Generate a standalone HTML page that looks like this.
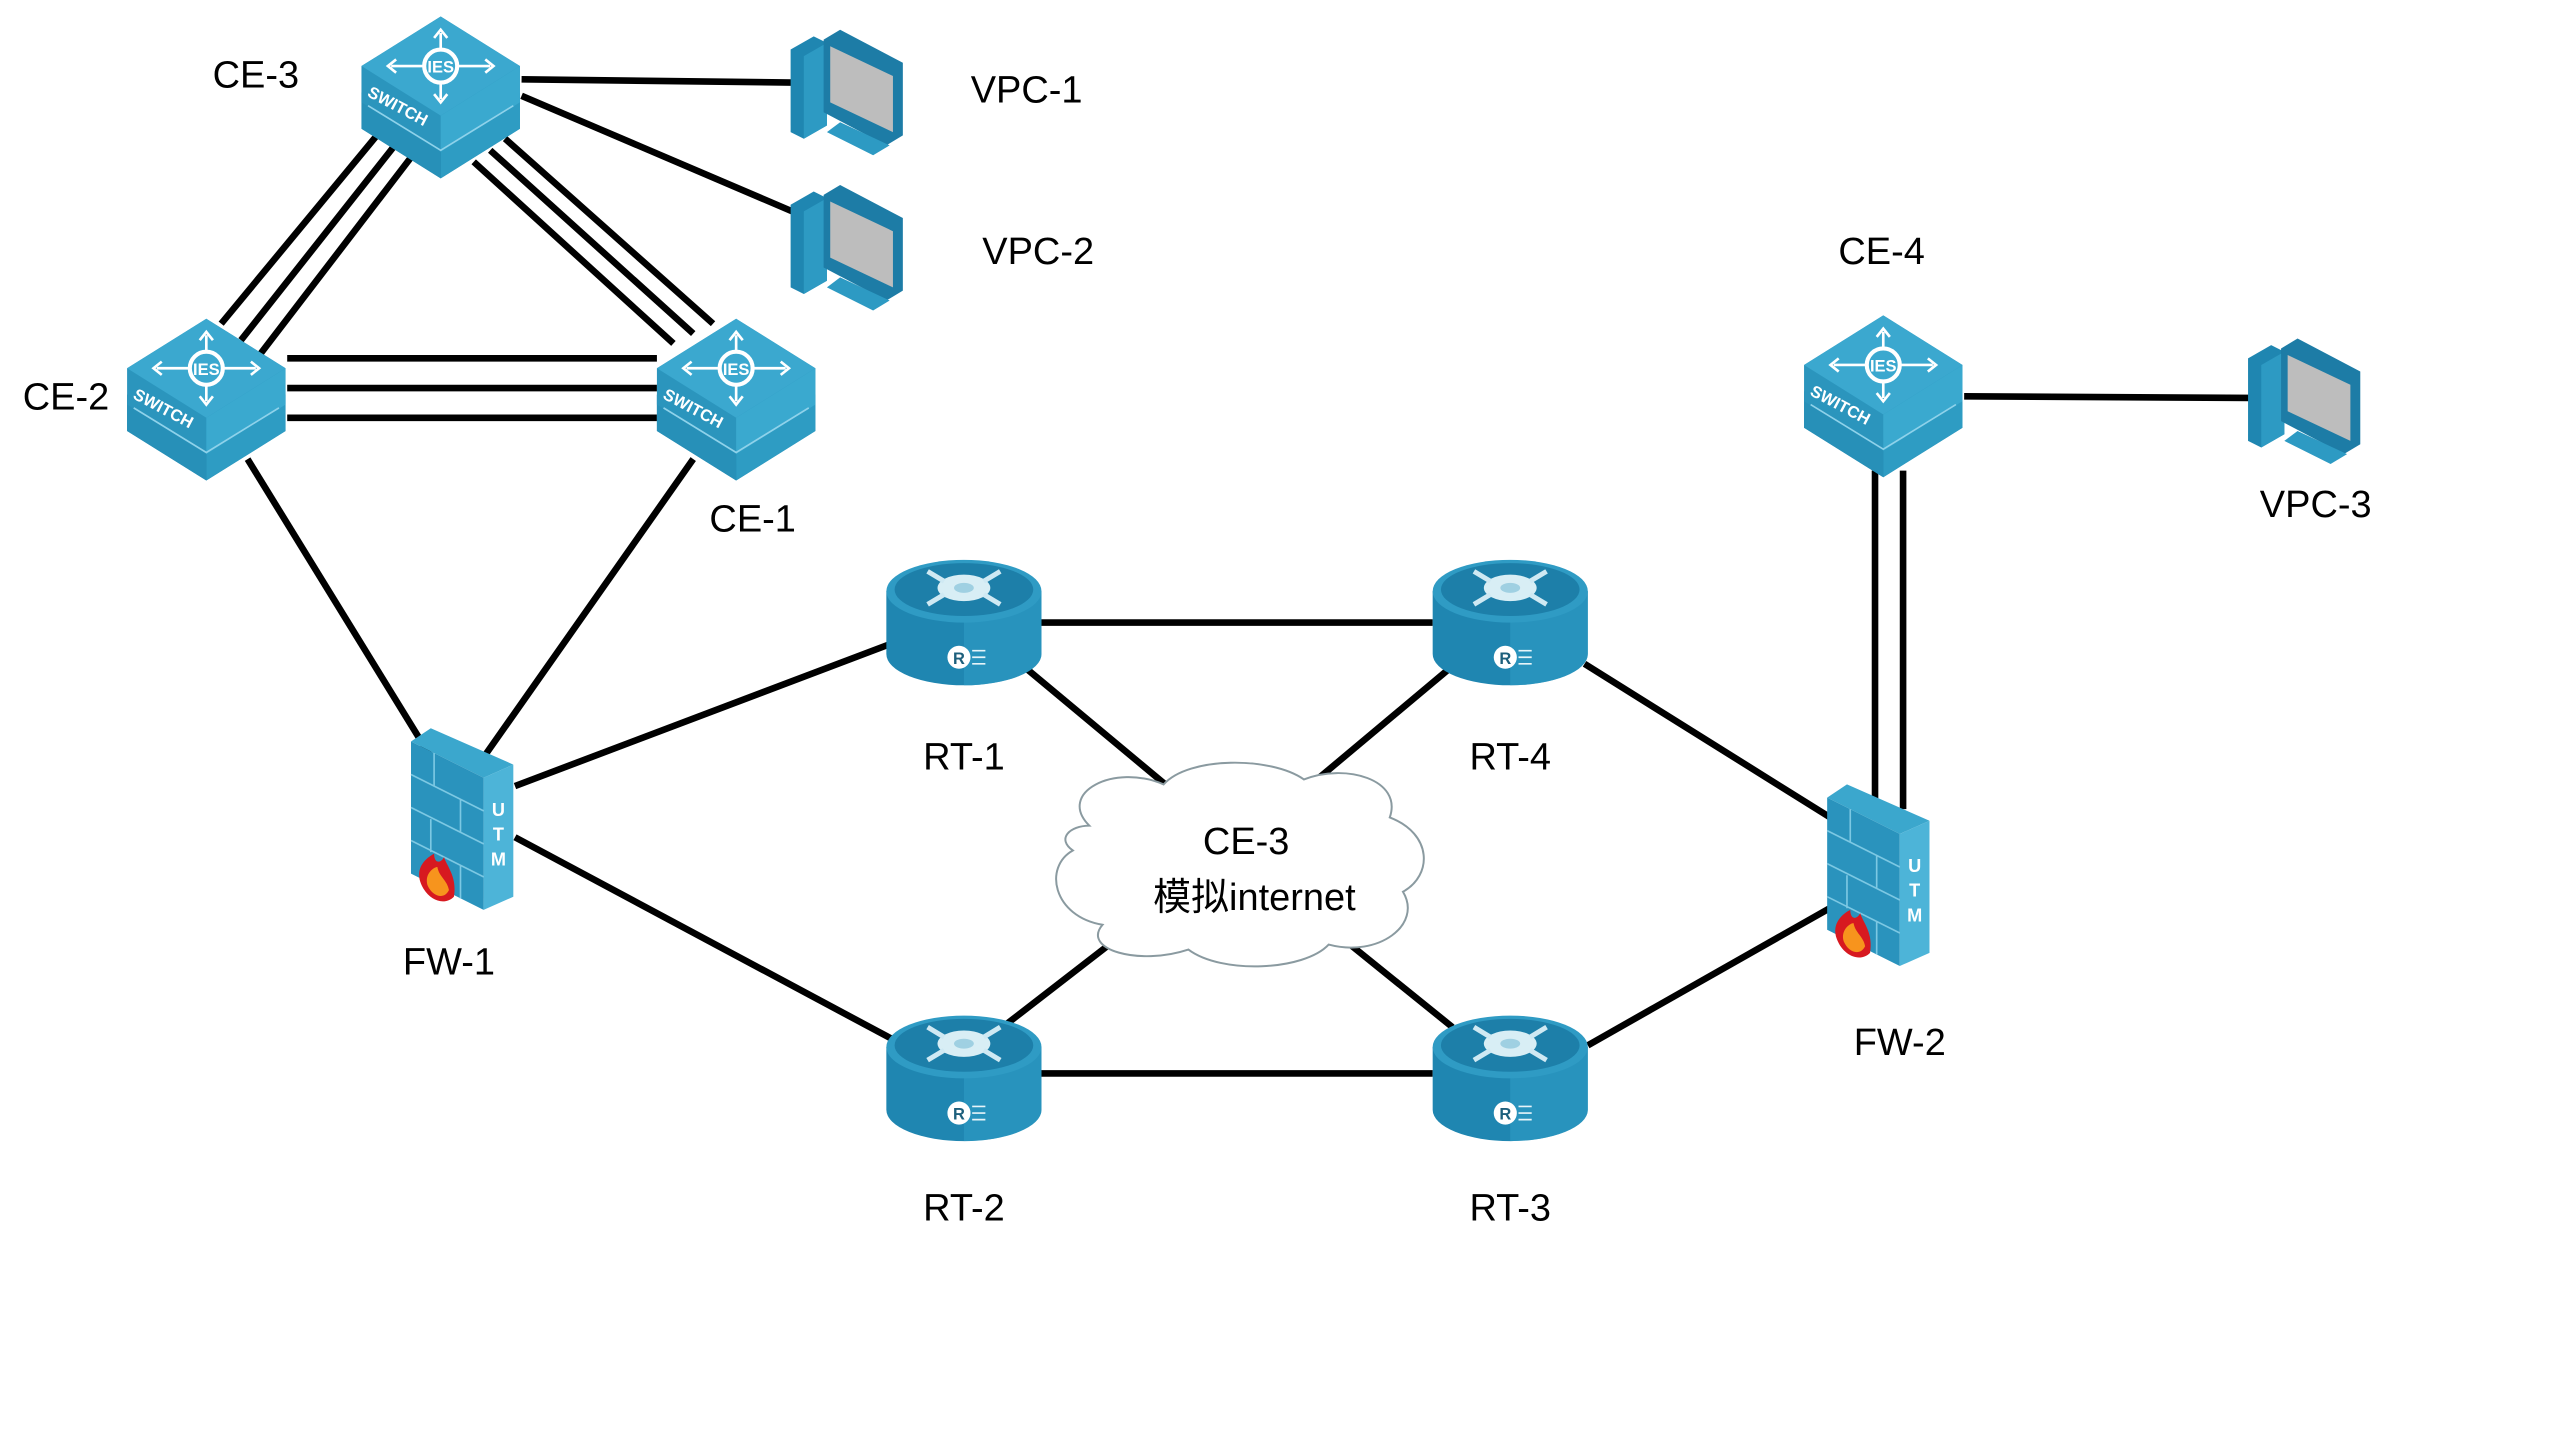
<!DOCTYPE html>
<html><head><meta charset="utf-8"><style>
html,body{margin:0;padding:0;background:#fff;width:2560px;height:1440px;overflow:hidden}
svg{display:block}
text{font-family:"Liberation Sans","Noto Sans CJK SC",sans-serif;font-size:23px;fill:#000}
</style></head><body>
<svg width="2560" height="1440" viewBox="0 0 1551 872" preserveAspectRatio="none" xmlns="http://www.w3.org/2000/svg">
<defs>
<g id="sw">
 <path d="M0,42 L48,13 L96,42 L96,64 L48,94 L0,64 Z" fill="#1f84ad"/>
 <path d="M48,72 L96,42 L96,64 L48,94 Z" fill="#2e9cc3"/>
 <path d="M0,42 L48,72 L48,94 L0,64 Z" fill="#2790b8"/>
 <path d="M0,26 L48,-4 L96,26 L96,48 L48,78 L0,48 Z" fill="#2b95bd"/>
 <path d="M48,56 L96,26 L96,48 L48,78 Z" fill="#3aa9cf"/>
 <path d="M0,26 L48,-4 L96,26 L48,56 Z" fill="#3ba8cf"/>
 <path d="M4,50 L48,77 L92,50" fill="none" stroke="#8fd2ea" stroke-width="1"/>
 <circle cx="48" cy="26" r="10" fill="none" stroke="#fff" stroke-width="2.5"/>
 <text x="48" y="30" text-anchor="middle" style="font-size:10px;font-weight:bold;fill:#fff">IES</text>
 <path d="M48,16 V6 M48,36 V46 M38,26 H18 M58,26 H78" stroke="#fff" stroke-width="1.6"/>
 <path d="M44,9 L48,4 L52,9 M44,43 L48,48 L52,43 M21,22 L16,26 L21,30 M75,22 L80,26 L75,30" fill="none" stroke="#fff" stroke-width="1.6"/>
 <text x="0" y="0" transform="translate(3,44) rotate(28)" style="font-size:10px;font-weight:bold;fill:#fff">SWITCH</text>
</g>
<g id="rt">
 <path d="M0,22 V60 A47,19 0 0 0 94,60 V22 Z" fill="#1f86b1"/>
 <path d="M47,41 V79 A47,19 0 0 0 94,60 V22 Z" fill="#2f9cc4" opacity="0.6"/>
 <ellipse cx="47" cy="22" rx="47" ry="19" fill="#2f9bc4"/>
 <ellipse cx="47" cy="21" rx="42" ry="16" fill="#1d7fa9"/>
 <ellipse cx="47" cy="20" rx="16" ry="8" fill="#d8eef5"/>
 <ellipse cx="47" cy="20" rx="6" ry="3" fill="#9fd0e2"/>
 <path d="M25,10 L35,16 M69,10 L59,16 M25,30 L35,24 M69,30 L59,24" stroke="#cfe9f3" stroke-width="3"/>
 <circle cx="44" cy="62" r="7" fill="#fff"/>
 <text x="44" y="66" text-anchor="middle" style="font-size:10px;font-weight:bold;fill:#1d5f7c">R</text>
 <path d="M52,58 H60 M52,62 H60 M52,66 H60" stroke="#e6f4f9" stroke-width="1"/>
</g>
<g id="fw">
 <path d="M0,10 L12,2 L62,24 L44,32 Z" fill="#3ba7cd"/>
 <path d="M0,10 L44,32 L44,112 L0,90 Z" fill="#2a93bd"/>
 <path d="M44,32 L62,24 L62,104 L44,112 Z" fill="#4db4d8"/>
 <path d="M0,30 L44,52 M0,50 L44,72 M0,70 L44,92 M14,17 V37 M30,45 V65 M12,57 V77 M30,85 V105" stroke="#7cc8e3" stroke-width="1"/>
 <text x="53" y="55" text-anchor="middle" style="font-size:11px;font-weight:bold;fill:#fff">U</text>
 <text x="53" y="70" text-anchor="middle" style="font-size:11px;font-weight:bold;fill:#fff">T</text>
 <text x="53" y="85" text-anchor="middle" style="font-size:11px;font-weight:bold;fill:#fff">M</text>
 <path d="M6,96 C2,86 10,80 14,78 C14,84 18,84 20,80 C22,86 28,92 26,104 C20,110 10,106 6,96 Z" fill="#d71920"/>
 <path d="M10,97 C8,90 14,86 16,86 C17,92 22,94 23,100 C20,106 13,104 10,97 Z" fill="#f7941d"/>
</g>
<g id="pc">
 <path d="M0,14 L14,6 L22,10 L22,60 L8,68 L0,64 Z" fill="#1f86b1"/>
 <path d="M8,18 L22,10 L22,60 L8,68 Z" fill="#2d9ac3"/>
 <path d="M20,8 L30,2 L68,22 L68,66 L58,72 L20,52 Z" fill="#1d7ca6"/>
 <path d="M24,12 L62,30 L62,64 L24,46 Z" fill="#bdbdbd"/>
 <path d="M30,58 L60,72 L50,78 L22,64 Z" fill="#2d9ac3"/>
</g>
</defs>

<g stroke="#000" stroke-width="4" fill="none" stroke-linecap="butt">
 <line x1="316" y1="48" x2="480" y2="50"/>
 <line x1="316" y1="58" x2="480" y2="128"/>
 <line x1="230" y1="80" x2="134" y2="196"/>
 <line x1="240" y1="87" x2="146" y2="206"/>
 <line x1="250" y1="94" x2="158" y2="214"/>
 <line x1="306" y1="84" x2="432" y2="196"/>
 <line x1="297" y1="91" x2="420" y2="202"/>
 <line x1="287" y1="98" x2="408" y2="208"/>
 <line x1="174" y1="217" x2="398" y2="217"/>
 <line x1="174" y1="235" x2="398" y2="235"/>
 <line x1="174" y1="253" x2="398" y2="253"/>
 <line x1="150" y1="278" x2="262" y2="460"/>
 <line x1="420" y1="278" x2="292" y2="460"/>
 <line x1="312" y1="476" x2="542" y2="389"/>
 <line x1="312" y1="507" x2="542" y2="630"/>
 <line x1="631" y1="377" x2="868" y2="377"/>
 <line x1="631" y1="650" x2="868" y2="650"/>
 <line x1="622" y1="405" x2="712" y2="480"/>
 <line x1="878" y1="405" x2="798" y2="472"/>
 <line x1="610" y1="620" x2="685" y2="562"/>
 <line x1="880" y1="622" x2="818" y2="572"/>
 <line x1="960" y1="402" x2="1112" y2="497"/>
 <line x1="962" y1="633" x2="1112" y2="548"/>
 <line x1="1190" y1="240" x2="1364" y2="241"/>
 <line x1="1136" y1="285" x2="1136" y2="490"/>
 <line x1="1153" y1="285" x2="1153" y2="490"/>
</g>

<use href="#sw" x="219" y="14"/>
<use href="#sw" x="77" y="197"/>
<use href="#sw" x="398" y="197"/>
<use href="#sw" x="1093" y="195"/>
<use href="#pc" x="479" y="16"/>
<use href="#pc" x="479" y="110"/>
<use href="#pc" x="1362" y="203"/>
<use href="#rt" x="537" y="336"/>
<use href="#rt" x="868" y="336"/>
<use href="#rt" x="537" y="612"/>
<use href="#rt" x="868" y="612"/>
<use href="#fw" x="249" y="439"/>
<use href="#fw" x="1107" y="473"/>

<path d="M660,500 C640,480 675,462 705,475 C720,458 770,458 790,472 C815,462 850,472 842,495 C868,505 868,530 850,540 C862,560 835,580 805,572 C790,588 740,590 720,575 C690,585 655,575 668,560 C638,555 632,525 650,515 C640,508 648,500 660,500 Z" fill="#fff" stroke="#8a9aa0" stroke-width="1.2"/>

<text x="155" y="53" text-anchor="middle">CE-3</text>
<text x="622" y="62" text-anchor="middle">VPC-1</text>
<text x="629" y="160" text-anchor="middle">VPC-2</text>
<text x="40" y="248" text-anchor="middle">CE-2</text>
<text x="456" y="322" text-anchor="middle">CE-1</text>
<text x="1140" y="160" text-anchor="middle">CE-4</text>
<text x="1403" y="313" text-anchor="middle">VPC-3</text>
<text x="584" y="466" text-anchor="middle">RT-1</text>
<text x="915" y="466" text-anchor="middle">RT-4</text>
<text x="584" y="739" text-anchor="middle">RT-2</text>
<text x="915" y="739" text-anchor="middle">RT-3</text>
<text x="272" y="590" text-anchor="middle">FW-1</text>
<text x="1151" y="639" text-anchor="middle">FW-2</text>
<text x="755" y="517" text-anchor="middle">CE-3</text>
<text x="760" y="551" text-anchor="middle">模拟internet</text>
</svg>
</body></html>
